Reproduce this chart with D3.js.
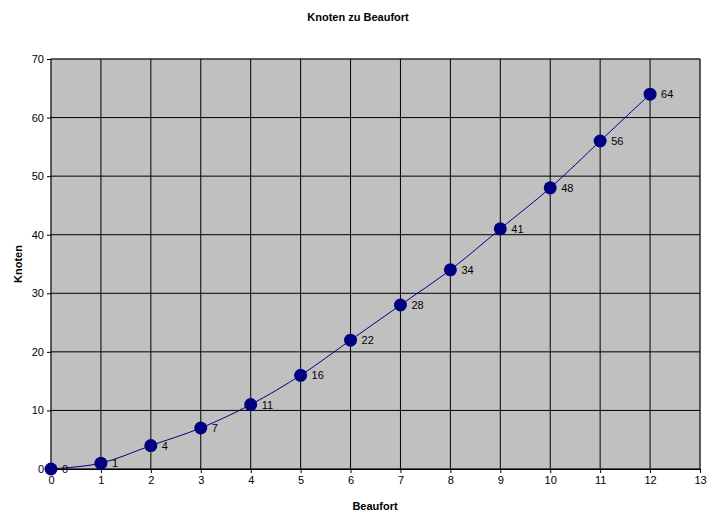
<!DOCTYPE html>
<html><head><meta charset="utf-8">
<script src="https://cdn.jsdelivr.net/npm/d3@7"></script>
<style>body{margin:0;background:#fff}text{font-family:Arial,"Liberation Sans",sans-serif}</style>
</head><body>
<svg width="716" height="519"></svg>
<script>
const beaufort = [0,1,2,3,4,5,6,7,8,9,10,11,12];
const knoten = [0,1,4,7,11,16,22,28,34,41,48,56,64];
const xTicks = d3.range(0,14);
const yTicks = d3.range(0,71,10);

const svg = d3.select('svg');
const x = d3.scaleLinear().domain([0,13]).range([51,700]);
const y = d3.scaleLinear().domain([0,70]).range([469,59]);

svg.append('rect').attr('x',51).attr('y',59).attr('width',649).attr('height',410)
    .attr('fill','#c0c0c0').attr('stroke','#808080');

// grid
svg.append('g').selectAll('line').data(xTicks).enter().append('line')
    .attr('x1',d=>x(d)).attr('x2',d=>x(d)).attr('y1',59).attr('y2',469).attr('stroke','#000');
svg.append('g').selectAll('line').data(yTicks).enter().append('line')
    .attr('x1',51).attr('x2',700).attr('y1',d=>y(d)).attr('y2',d=>y(d)).attr('stroke','#000');

svg.append('g').attr('transform','translate(0,469)')
    .call(d3.axisBottom(x).tickValues(xTicks).tickSize(4).tickFormat(d3.format('d')))
    .call(g=>g.selectAll('text').attr('font-size',11).attr('fill','#000'));
svg.append('g').attr('transform','translate(51,0)')
    .call(d3.axisLeft(y).tickValues(yTicks).tickSize(4))
    .call(g=>g.selectAll('text').attr('font-size',11).attr('fill','#000'))
    .call(g=>g.select('.domain').remove());

const pts = beaufort.map((b,i)=>[b,knoten[i]]);
svg.append('path').datum(pts)
    .attr('d', d3.line().x(d=>x(d[0])).y(d=>y(d[1])).curve(d3.curveCatmullRom))
    .attr('fill','none').attr('stroke','#000080').attr('stroke-width',1);

svg.append('g').selectAll('circle').data(pts).enter().append('circle')
    .attr('cx',d=>x(d[0])).attr('cy',d=>y(d[1])).attr('r',6.5).attr('fill','#000080');

svg.append('g').selectAll('text').data(pts).enter().append('text')
    .attr('x',d=>x(d[0])+11).attr('y',d=>y(d[1])+4).attr('font-size',11).text(d=>d[1]);

svg.append('text').attr('x',358).attr('y',21).attr('text-anchor','middle')
    .attr('font-size',11).attr('font-weight','bold').text('Knoten zu Beaufort');
svg.append('text').attr('x',375).attr('y',510).attr('text-anchor','middle')
    .attr('font-size',11).attr('font-weight','bold').text('Beaufort');
svg.append('text').attr('transform','translate(22,264) rotate(-90)').attr('text-anchor','middle')
    .attr('font-size',11).attr('font-weight','bold').text('Knoten');
</script>
</body></html>
